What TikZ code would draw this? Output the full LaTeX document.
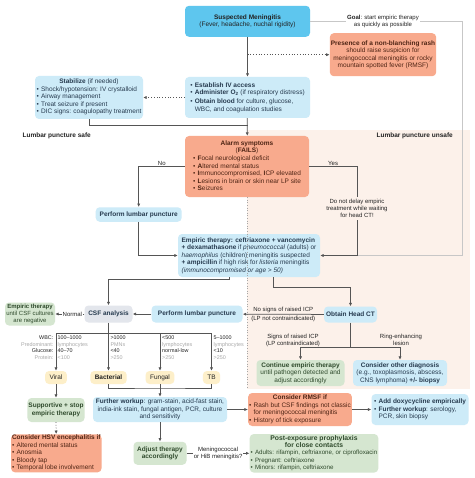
\documentclass[tikz,border=0pt]{standalone}
\usepackage{fontspec}
\setmainfont{Liberation Sans}
\usetikzlibrary{positioning,arrows.meta}

\definecolor{suspblue}{HTML}{5EC6EE}
\definecolor{paleblue}{HTML}{CDEBF8}
\definecolor{salmon}{HTML}{F8AA8D}
\definecolor{sage}{HTML}{D5E6D0}
\definecolor{cream}{HTML}{FDEFC9}
\definecolor{fog}{HTML}{E3E6EC}
\definecolor{peach}{HTML}{FCF1EA}
\definecolor{wiregray}{HTML}{555555}
\definecolor{ink}{HTML}{222222}
\definecolor{faint}{HTML}{A8A8A8}
\definecolor{bluetext}{HTML}{263A4E}
\definecolor{greentext}{HTML}{2F4A2C}
\definecolor{redtext}{HTML}{4E2414}

\newcommand{\boxfont}{\fontsize{6.5}{7.5}\selectfont}
\newcommand{\notefont}{\fontsize{6}{7}\selectfont}
\newcommand{\tablefont}{\fontsize{5.4}{6.6}\selectfont}
\newcommand{\bitem}{\makebox[0.7em][l]{•}}
\newcommand{\bindent}{\hspace*{0.7em}}
\newcommand{\ctitle}[1]{\multicolumn{1}{@{}c@{}}{#1}}

\begin{document}
\begin{tikzpicture}[x=1pt,y=-1pt,
    >={Latex[length=3.5pt,width=3.2pt]},
    box/.style={
% The shape:
rectangle, rounded corners=4pt,
% The size:
inner sep=1pt,
% The text:
align=center, font=\boxfont,
},
    headbox/.style={box, fill=suspblue, text=ink},
    bluebox/.style={box, fill=paleblue, text=bluetext},
    redbox/.style={box, fill=salmon, text=redtext},
    greenbox/.style={box, fill=sage, text=greentext},
    graybox/.style={box, fill=fog, text=bluetext},
    typebox/.style={box, fill=cream, text=ink, minimum height=13pt, inner xsep=4.5pt},
    note/.style={font=\notefont, text=ink, align=center, inner sep=1pt},
    wire/.style={draw=wiregray, line width=0.75pt},
    bracket/.style={draw=black!22, line width=0.6pt},
    boundary/.style={draw=black!35, dotted, line width=0.6pt},
]
  \useasboundingbox (0,0) rectangle (474,478);
  \fill[white] (0,0) rectangle (474,478);
  % unsafe region
  \fill[peach] (247,130) rectangle (470,389);

  \node[headbox, minimum width=125pt, minimum height=31pt] (suspect) at (247.5,21.3)
    {\textbf{Suspected Meningitis}\\(Fever, headache, nuchal rigidity)};
  \node[redbox, minimum width=102pt, minimum height=43pt] (rash) at (383,54.7)
    {\textbf{Presence of a non-blanching rash}\\should raise suspicion for\\meningococcal meningitis or rocky\\mountain spotted fever (RMSF)};
  \node[bluebox, align=left, minimum width=125pt, minimum height=41pt] (establish) at (247.5,97.5)
    {\bitem\textbf{Establish IV access}\\
     \bitem\textbf{Administer O\textsubscript{2}} (if respiratory distress)\\[1.5pt]
     \bitem\textbf{Obtain blood} for culture, glucose,\\
     \bindent WBC, and coagulation studies};
  \node[bluebox, minimum width=108pt, minimum height=43pt] (stabilize) at (89,97.5)
    {\begin{tabular}{@{}l@{}}
     \ctitle{\textbf{Stabilize} (if needed)}\\
     \bitem Shock/hypotension: IV crystalloid\\
     \bitem Airway management\\
     \bitem Treat seizure if present\\
     \bitem DIC signs: coagulopathy treatment
     \end{tabular}};
  \node[redbox, minimum width=124pt, minimum height=61pt] (alarm) at (247,166.5)
    {\begin{tabular}{@{}l@{}}
     \ctitle{\textbf{Alarm symptoms}}\\
     \ctitle{(\textbf{FAILS})}\\
     \bitem\textbf{F}ocal neurological deficit\\
     \bitem\textbf{A}ltered mental status\\
     \bitem\textbf{I}mmunocompromised, \textbf{I}CP elevated\\
     \bitem\textbf{L}esions in brain or skin near LP site\\
     \bitem\textbf{S}eizures
     \end{tabular}};
  \node[bluebox, minimum width=86pt, minimum height=14.5pt] (lpsafe) at (138.7,214.5)
    {\textbf{Perform lumbar puncture}};
  \node[note, fill=peach, inner sep=2.5pt] (delay) at (357,208.5)
    {Do not delay empiric\\treatment while waiting\\for head CT!};
  \node[bluebox, align=left, minimum width=142pt, minimum height=43pt] (empiric) at (249,255.5)
    {\textbf{Empiric therapy: ceftriaxone + vancomycin}\\
     \textbf{+ dexamathasone} if \textit{pneumococcal} (adults) or\\
     \textit{haemophilus} (children) meningitis suspected\\
     \textbf{+ ampicillin} if high risk for \textit{listeria} meningitis\\
     \textit{(immunocompromised or age > 50)}};

  \node[font=\boxfont\bfseries, text=ink] (safe) at (56.7,135.7) {Lumbar puncture safe};
  \node[font=\boxfont\bfseries, text=ink] (unsafe) at (414.7,135.7) {Lumbar puncture unsafe};

  \node[greenbox, font=\fontsize{6}{7.2}\selectfont, minimum width=50pt, minimum height=23pt] (cultneg) at (30,314)
    {\textbf{Empiric therapy}\\until CSF cultures\\are negative};
  \node[graybox, minimum width=48pt, minimum height=17pt] (csf) at (108.5,314) {\textbf{CSF analysis}};
  \node[bluebox, minimum width=91pt, minimum height=17pt] (lpct) at (197,314) {\textbf{Perform lumbar puncture}};
  \node[bluebox, minimum width=53pt, minimum height=16pt] (ct) at (350.5,314.5) {\textbf{Obtain Head CT}};

  % CSF findings
  \node[anchor=north east, font=\tablefont, align=right, inner sep=0pt, text=ink] (rowlabels) at (53.5,335.5)
    {WBC:\\\textcolor{faint}{Predominant:}\\Glucose:\\\textcolor{faint}{Protein:}};
  \node[anchor=north west, font=\tablefont, align=left, inner sep=0pt, text=ink] (viralvals) at (57.5,335.5)
    {100–1000\\\textcolor{faint}{lymphocytes}\\40–70\\\textcolor{faint}{<100}};
  \node[anchor=north west, font=\tablefont, align=left, inner sep=0pt, text=ink] (bactvals) at (110.3,335.5)
    {>1000\\\textcolor{faint}{PMNs}\\<40\\\textcolor{faint}{>250}};
  \node[anchor=north west, font=\tablefont, align=left, inner sep=0pt, text=ink] (fungvals) at (162,335.5)
    {<500\\\textcolor{faint}{lymphocytes}\\normal-low\\\textcolor{faint}{>250}};
  \node[anchor=north west, font=\tablefont, align=left, inner sep=0pt, text=ink] (tbvals) at (213.5,335.5)
    {5–1000\\\textcolor{faint}{lymphocytes}\\<10\\\textcolor{faint}{>250}};

  \node[typebox] (viral) at (56,377.5) {Viral};
  \node[typebox] (bacterial) at (108.5,377.5) {\textbf{Bacterial}};
  \node[typebox] (fungal) at (160,377.5) {Fungal};
  \node[typebox] (tb) at (211.5,377.5) {TB};

  \node[greenbox, minimum width=57pt, minimum height=24pt] (supportive) at (56,410)
    {\textbf{Supportive + stop}\\\textbf{empiric therapy}};
  \node[redbox, align=left, minimum width=86pt, minimum height=37pt] (hsv) at (56.3,453.3)
    {\textbf{Consider HSV encephalitis if}\\
     \bitem Altered mental status\\
     \bitem Anosmia\\
     \bitem Bloody tap\\
     \bitem Temporal lobe involvement};
  \node[bluebox, minimum width=134pt, minimum height=25pt] (workup) at (160,409.5)
    {\textbf{Further workup}: gram-stain, acid-fast stain,\\india-ink stain, fungal antigen, PCR, culture\\and sensitivity};
  \node[greenbox, minimum width=53pt, minimum height=23pt] (adjust) at (160,453.3)
    {\textbf{Adjust therapy}\\\textbf{accordingly}};

  \node[greenbox, minimum width=88pt, minimum height=26pt] (continue) at (300.5,373)
    {\textbf{Continue empiric therapy}\\until pathogen detected and\\adjust accordingly};
  \node[bluebox, minimum width=94pt, minimum height=26pt] (otherdx) at (400,373)
    {\textbf{Consider other diagnosis}\\(e.g., toxoplasmosis, abscess,\\CNS lymphoma) \textbf{+/- biopsy}};
  \node[note] (icp) at (293,340) {Signs of raised ICP\\(LP contraindicated)};
  \node[note] (ring) at (401,340) {Ring-enhancing\\lesion};

  \node[redbox, minimum width=95pt, minimum height=33pt] (rmsf) at (300,409.5)
    {\begin{tabular}{@{}l@{}}
     \ctitle{\textbf{Consider RMSF if}}\\
     \bitem Rash but CSF findings not classic\\
     \bindent for meningococcal meningitis\\
     \bitem History of tick exposure
     \end{tabular}};
  \node[bluebox, align=left, minimum width=97pt, minimum height=31pt] (doxy) at (420,409.5)
    {\bitem\textbf{Add doxycycline empirically}\\
     \bitem\textbf{Further workup}: serology,\\
     \bindent PCR, skin biopsy};
  \node[greenbox, font=\fontsize{6.2}{7.3}\selectfont, minimum width=125pt, minimum height=37pt] (postexp) at (314,453.3)
    {\begin{tabular}{@{}l@{}}
     \ctitle{\textbf{\fontsize{6.8}{7.5}\selectfont Post-exposure prophylaxis}}\\
     \ctitle{\textbf{\fontsize{6.8}{7.5}\selectfont for close contacts}}\\
     \bitem Adults: rifampin, ceftriaxone, or ciprofloxacin\\
     \bitem Pregnant: ceftriaxone\\
     \bitem Minors: rifampin, ceftriaxone
     \end{tabular}};

  % goal bracket and region edge
  \draw[bracket] (suspect.east) -- (462,21.3) |- (delay |- empiric.east);
  \node[note, fill=white] (goal) at (383,21) {\textbf{Goal}: start empiric therapy\\as quickly as possible};
  \draw[boundary] (alarm.south) -- (alarm.south |- 0,389);

  % connectors
  \draw[wire,->] (suspect) -- (establish);
  \draw[wire,dotted,->] (suspect.south |- rash.west) -- (rash.west);
  \draw[wire,dotted,->] (establish) -- (stabilize);
  \draw[wire] (stabilize.south) |- (establish.south |- 0,125);
  \draw[wire,->] (establish) -- (alarm);
  \draw[wire,->] (alarm.west) -| node[note, above, pos=0.25] {No} (lpsafe);
  \draw[wire] (alarm.east) -| node[note, above, pos=0.25] {Yes} (delay);
  \draw[wire,->] (delay) |- (empiric.east);
  \draw[wire,->] (lpsafe) |- (empiric.west);
  \draw[wire,->] (empiric.south -| 229,0) -- ++(0,2.5) -| (csf);
  \draw[wire,->] (empiric.south -| 273,0) -- ++(0,10.5) -| (ct);
  \draw[wire,->] (ct) -- node[note, above] {No signs of raised ICP} node[note, below] {(LP not contraindicated)} (lpct);
  \draw[wire,->] (lpct) -- (csf);
  \draw[wire,->] (csf) -- node[note, fill=white, pos=0.41] {Normal} (cultneg);

  \coordinate (csfsplit) at (csf.south |- 0,333);
  \draw[wire] (csf) -- (csfsplit);
  \draw[wire] (csfsplit -| viral) -- (csfsplit -| tb);
  \draw[wire,->] (csfsplit -| viral) -- (viral);
  \draw[wire,->] (csfsplit -| bacterial) -- (bacterial);
  \draw[wire,->] (csfsplit -| fungal) -- (fungal);
  \draw[wire,->] (csfsplit -| tb) -- (tb);

  \coordinate (typemerge) at (fungal.south |- 0,388);
  \draw[wire] (bacterial) |- (typemerge) -| (tb);
  \draw[wire] (fungal) -- (typemerge);
  \draw[wire,->] (typemerge) -- (workup);

  \draw[wire,->] (viral) -- (supportive);
  \draw[wire,dotted,->] (supportive) -- (hsv);
  \draw[wire,->] (workup) -- (adjust);
  \draw[wire,->] (workup) -- (rmsf);
  \draw[wire,->] (rmsf) -- (doxy);
  \draw[wire,->] (adjust) -- node[note, fill=white] {Meningococcal\\or HiB meningitis?} (postexp);

  \coordinate (ctsplit) at (ct.south |- 0,347);
  \draw[wire] (ct) -- (ctsplit);
  \draw[wire,->] (ctsplit) -| (continue);
  \draw[wire,->] (ctsplit) -| (otherdx);

\end{tikzpicture}
\end{document}
